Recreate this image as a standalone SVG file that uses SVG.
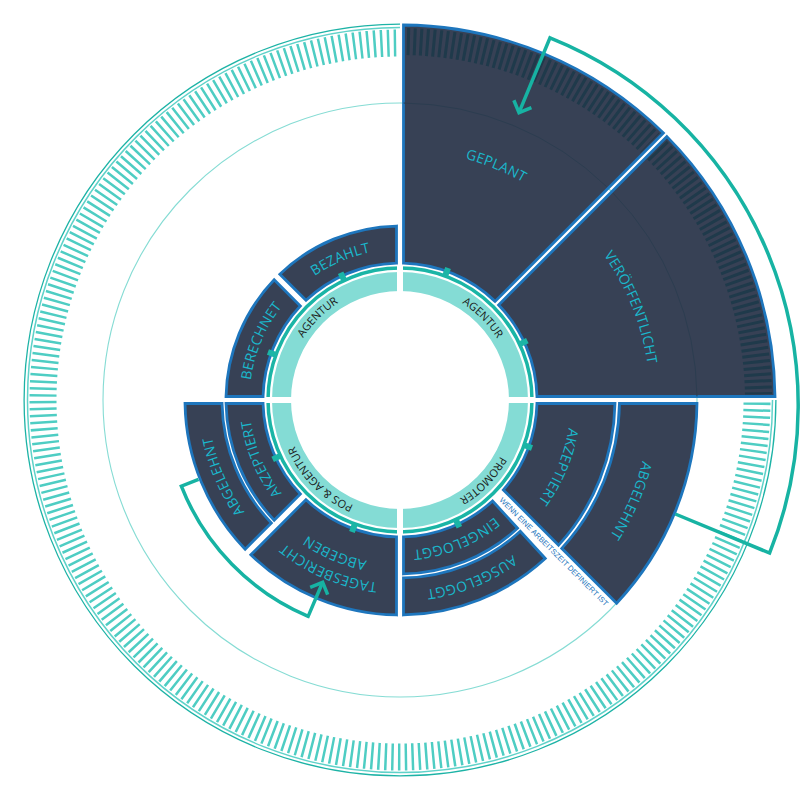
<svg xmlns="http://www.w3.org/2000/svg" width="800" height="800" viewBox="0 0 800 800">
<style>
.seg{fill:#374155;stroke:#1e76bd;stroke-width:2.8}
.lbl{font-family:"Open Sans","Liberation Sans",sans-serif;font-size:14px;fill:#1ab8cc;letter-spacing:0.3px}
.rl{font-family:"Open Sans","Liberation Sans",sans-serif;font-size:11px;fill:#1a1a1a}
.tab{fill:#1bb5a6}
.conn{fill:none;stroke:#17b3a3;stroke-width:3.5}
.dt{fill:none;stroke:#1f3a4b;stroke-width:27;stroke-dasharray:3 3.4}
</style>
<defs>
<path id="c115" d="M515,400 A115,115 0 1 1 285,400 A115,115 0 1 1 515,400"/>
<path id="c150" d="M550.5,400 A150.5,150.5 0 1 1 249.5,400 A150.5,150.5 0 1 1 550.5,400"/>
<path id="c164" d="M564,400 A164,164 0 1 1 236,400 A164,164 0 1 1 564,400"/>
<path id="c171" d="M571,400 A171,171 0 1 1 229,400 A171,171 0 1 1 571,400"/>
<path id="c184" d="M584,400 A184,184 0 1 1 216,400 A184,184 0 1 1 584,400"/>
<path id="c191" d="M591.5,400 A191.5,191.5 0 1 1 208.5,400 A191.5,191.5 0 1 1 591.5,400"/>
<path id="c250" d="M650,400 A250,250 0 1 1 150,400 A250,250 0 1 1 650,400"/>
<marker id="chev" markerUnits="userSpaceOnUse" viewBox="-14 -14 16 28" markerWidth="16" markerHeight="28" refX="0" refY="0" orient="auto" overflow="visible">
<path d="M-9.5,-9.5 L0,0 L-9.5,9.5" fill="none" stroke="#17b3a3" stroke-width="3.5"/>
</marker>
</defs>

<g id="background-rings">
<circle cx="400" cy="400" r="297" fill="none" stroke="#86dcd4" stroke-width="1.1"/>
<path d="M757.0,402.5 A357,357 0 1 1 397.5,43.0" fill="none" stroke="#4ecdc3" stroke-width="27" stroke-dasharray="2.5 4.3"/>
<path d="M772.5,400 A372.5,372.5 0 1 1 400,27.5" fill="none" stroke="#5fd2c9" stroke-width="1.5"/>
<path d="M775.9,400 A375.9,375.9 0 1 1 400,24.1" fill="none" stroke="#1db3a6" stroke-width="1.3"/>
<circle cx="400" cy="400" r="118.5" fill="none" stroke="#84dcd5" stroke-width="19"/>
<circle cx="400" cy="400" r="132" fill="none" stroke="#1bb5a6" stroke-width="3.5"/>
<path d="M400,262 V538 M262,400 H538" stroke="#fff" stroke-width="6"/>
</g>

<g id="ring-agentur-1"><text class="rl" text-anchor="middle"><textPath href="#c115" startOffset="451.6">AGENTUR</textPath></text></g>
<g id="ring-agentur-2"><text class="rl" text-anchor="middle"><textPath href="#c115" startOffset="632.25">AGENTUR</textPath></text></g>
<g id="ring-promoter"><text class="rl" text-anchor="middle"><textPath href="#c115" startOffset="88.3">PROMOTER</textPath></text></g>
<g id="ring-pos-agentur"><text class="rl" text-anchor="middle"><textPath href="#c115" startOffset="270.96">POS &amp; AGENTUR</textPath></text></g>

<g id="geplant">
<path class="seg" transform="translate(400,400) rotate(-90)" d="M136.96,3.5 L374.98,3.5 A375,375 0 0 1 266.93,263.39 L98.63,95.09 A137,137 0 0 0 136.96,3.5 Z"/>
<path class="dt" d="M406.88,41.57 A358.5,358.5 0 0 1 649.93,142.99"/>
<path d="M403.63,103.02 A297,297 0 0 1 606.69,186.72" fill="none" stroke="#2c3d50" stroke-width="1"/>
<text class="lbl" text-anchor="middle"><textPath href="#c250" startOffset="1274.96">GEPLANT</textPath></text>
</g>
<g id="veroeffentlicht">
<path class="seg" transform="translate(400,400) rotate(-45)" d="M136.98,2.5 L374.99,2.5 A375,375 0 0 1 267.63,262.68 L99.32,94.37 A137,137 0 0 0 136.98,2.5 Z"/>
<path class="dt" d="M657.01,150.07 A358.5,358.5 0 0 1 758.46,394.37"/>
<path d="M613.28,193.31 A297,297 0 0 1 696.98,396.37" fill="none" stroke="#2c3d50" stroke-width="1"/>
<text class="lbl" text-anchor="middle"><textPath href="#c250" startOffset="1474.8">VERÖFFENTLICHT</textPath></text>
</g>
<g id="akzeptiert-promoter">
<path class="seg" transform="translate(400,400)" d="M136.96,3.5 L214.97,3.5 A215,215 0 0 1 158.6,145.16 L103.36,89.92 A137,137 0 0 0 136.96,3.5 Z"/>
<text class="lbl" text-anchor="middle"><textPath href="#c171" startOffset="68.05">AKZEPTIERT</textPath></text>
</g>
<g id="abgelehnt-promoter">
<path class="seg" transform="translate(400,400)" d="M219.47,3.5 L296.98,3.5 A297,297 0 0 1 216.62,203.19 L161.78,148.35 A219.5,219.5 0 0 0 219.47,3.5 Z"/>
<text class="lbl" text-anchor="middle"><textPath href="#c250" startOffset="102.54">ABGELEHNT</textPath></text>
</g>
<g id="eingeloggt">
<path class="seg" transform="translate(400,400) rotate(45)" d="M136.87,5.98 L173.83,7.59 A174,174 0 0 1 125.49,120.54 L99.32,94.37 A137,137 0 0 0 136.87,5.98 Z"/>
<text class="lbl" text-anchor="middle"><textPath href="#c150" startOffset="178.62">EINGELOGGT</textPath></text>
</g>
<g id="ausgeloggt">
<path class="seg" transform="translate(400,400) rotate(45)" d="M177.83,7.76 L214.8,9.38 A215,215 0 0 1 154.48,149.53 L128.32,123.37 A178,178 0 0 0 177.83,7.76 Z"/>
<text class="lbl" text-anchor="middle"><textPath href="#c191" startOffset="227.28">AUSGELOGGT</textPath></text>
</g>
<g id="tagesbericht-abgeben">
<path class="seg" transform="translate(400,400) rotate(90)" d="M136.96,3.5 L214.97,3.5 A215,215 0 0 1 154.83,149.17 L99.66,94 A137,137 0 0 0 136.96,3.5 Z"/>
<text class="lbl" text-anchor="middle"><textPath href="#c184" startOffset="362.89">TAGESBERICHT</textPath></text>
<text class="lbl" text-anchor="middle"><textPath href="#c164" startOffset="323.44">ABGEBEN</textPath></text>
</g>
<g id="akzeptiert-pos">
<path class="seg" transform="translate(400,400) rotate(135)" d="M136.94,4 L173.95,4 A174,174 0 0 1 125.49,120.54 L99.32,94.37 A137,137 0 0 0 136.94,4 Z"/>
<text class="lbl" text-anchor="middle"><textPath href="#c150" startOffset="412.4">AKZEPTIERT</textPath></text>
</g>
<g id="abgelehnt-pos">
<path class="seg" transform="translate(400,400) rotate(135)" d="M177.96,4 L214.96,4 A215,215 0 0 1 154.48,149.53 L128.32,123.37 A178,178 0 0 0 177.96,4 Z"/>
<text class="lbl" text-anchor="middle"><textPath href="#c191" startOffset="523.07">ABGELEHNT</textPath></text>
</g>
<g id="berechnet">
<path class="seg" transform="translate(400,400) rotate(180)" d="M136.96,3.5 L173.97,3.5 A174,174 0 0 1 125.83,120.18 L99.66,94 A137,137 0 0 0 136.96,3.5 Z"/>
<text class="lbl" text-anchor="middle"><textPath href="#c150" startOffset="533.22">BERECHNET</textPath></text>
</g>
<g id="bezahlt">
<path class="seg" transform="translate(400,400) rotate(225)" d="M136.94,4 L173.95,4 A174,174 0 0 1 125.49,120.54 L99.32,94.37 A137,137 0 0 0 136.94,4 Z"/>
<text class="lbl" text-anchor="middle"><textPath href="#c150" startOffset="648.8">BEZAHLT</textPath></text>
</g>

<g id="tabs" class="tab">
<rect x="131" y="-3" width="9.5" height="6" transform="translate(400,400) rotate(20)"/>
<rect x="131" y="-3" width="9.5" height="6" transform="translate(400,400) rotate(65)"/>
<rect x="131" y="-3" width="9.5" height="6" transform="translate(400,400) rotate(110)"/>
<rect x="131" y="-3" width="9.5" height="6" transform="translate(400,400) rotate(155)"/>
<rect x="131" y="-3" width="9.5" height="6" transform="translate(400,400) rotate(200)"/>
<rect x="131" y="-3" width="9.5" height="6" transform="translate(400,400) rotate(245)"/>
<rect x="131" y="-3" width="9.5" height="6" transform="translate(400,400) rotate(290)"/>
<rect x="131" y="-3" width="9.5" height="6" transform="translate(400,400) rotate(335)"/>
</g>

<g id="note">
<text transform="translate(400,400) rotate(45)" x="141" y="1" font-family="Liberation Sans, sans-serif" font-size="7.5" fill="#1e76bd" textLength="150" lengthAdjust="spacingAndGlyphs">WENN EINE ARBEITSZEIT DEFINIERT IST</text>
</g>

<g id="connectors">
<path class="conn" d="M675.3,514 L769.55,553.07 A396,396 0 0 0 550,37.8 L519,112.7" marker-end="url(#chev)"/>
<path class="conn" d="M198.56,479.35 L181.35,486.13 A235,235 0 0 0 308.18,616.32 L322.64,582.26" marker-end="url(#chev)"/>
</g>
</svg>
